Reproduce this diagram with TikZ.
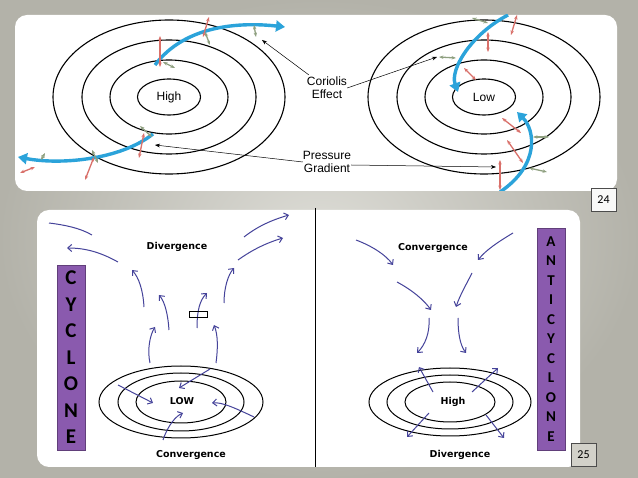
\documentclass[tikz,border=0pt]{standalone}
\usepackage{fontspec}
\setmainfont{Liberation Sans}
\newfontfamily\dvb{DejaVu Sans}
\newfontfamily\carl{Carlito}
\usetikzlibrary{arrows.meta}
\begin{document}
\begin{tikzpicture}[x=1pt,y=-1pt,
  ring/.style={black,line width=1.1pt},
  blue/.style={draw=cBlue,line width=3.4pt,-{Triangle[length=9pt,width=11pt]}},
  red/.style={draw=cRed,line width=1.3pt,{Stealth[length=4.5pt]}-{Stealth[length=4.5pt]}},
  grn/.style={draw=cGrn,line width=1.3pt,{Stealth[length=4.5pt]}-{Stealth[length=4.5pt]}},
  thin/.style={black,line width=0.5pt,-{Stealth[length=5pt]}},
  nav/.style={draw=cNav,line width=1pt,-{Straight Barb[length=4pt,width=7pt]}},
  lbl/.style={font=\fontsize{12}{13}\selectfont,align=center,inner sep=0pt},
  blbl/.style={font=\dvb\bfseries\fontsize{9.5}{10}\selectfont,inner sep=0pt},
  bar/.style={fill=cPur,draw=cPur!70!black},
  num/.style={draw=black!70,line width=0.6pt,minimum width=25pt,minimum height=23pt,font=\carl\fontsize{12}{12}\selectfont,inner sep=0pt}]
\definecolor{cBlue}{HTML}{2BA3DA}
\definecolor{cRed}{HTML}{D9706A}
\definecolor{cGrn}{HTML}{8FA080}
\definecolor{cNav}{HTML}{45439A}
\definecolor{cPur}{HTML}{8A5AAE}
\definecolor{bg}{HTML}{C7C6BC}
\useasboundingbox (0,0) rectangle (638,478);
\shade[inner color=bg!60!white,outer color=bg!90!black] (0,0) rectangle (638,478);
% top panel
\fill[white,rounded corners=12pt] (15,15) rectangle (617,191);
\begin{scope}
\clip (15,15) rectangle (617,191);
\foreach \c in {169,484}{
  \draw[ring] (\c,97) ellipse (31.5 and 18);
  \draw[ring] (\c,97) ellipse (59 and 37);
  \draw[ring] (\c,97) ellipse (87 and 57);
  \draw[ring] (\c,97) ellipse (116 and 77);
}
\node[lbl] (high) at (169,97) {High};
\node[lbl] (low) at (484,97) {Low};
\draw[blue] (155,65) .. controls (185,25) and (240,22) .. (285,27);
\draw[blue] (153,134) .. controls (120,160) and (60,165) .. (18,157);
\draw[blue] (508,15) .. controls (470,35) and (450,70) .. (458,92);
\draw[blue] (500,192) .. controls (540,165) and (535,130) .. (517,112);
\foreach \a/\b/\c/\d in {160/36/160/67, 209/17/203/37, 144/133/139/158, 85/180/94/157, 20/173/35/167, 517/15/511/35, 488/32/488/52, 464/68/476/80, 502/118/521/133, 507/140/523/163, 500/160/500/190}
  \draw[red] (\a,\b) -- (\c,\d);
\foreach \a/\b/\c/\d in {163/62/175/68, 205/32/210/45, 254/25/256/37, 140/126/152/137, 92/150/98/163, 45/153/41/160, 472/18/488/23, 439/57/456/58, 533/137/549/137, 529/168/547/172}
  \draw[grn] (\a,\b) -- (\c,\d);
\end{scope}
\node[lbl] (cor) at (327,88) {Coriolis\\Effect};
\node[lbl] (pg) at (327,162) {Pressure\\Gradient};
\coordinate (c1) at (262,40); \coordinate (c2) at (437,57);
\coordinate (p1) at (155,145); \coordinate (p2) at (496,167);
\draw[thin] (cor.north west) ++(2,-2) -- (c1);
\draw[thin] (cor.east) -- (c2);
\draw[thin] (pg.west) -- (p1);
\draw[thin] (pg.east) ++(0,3) -- (p2);
\node[num,fill=white!90!bg] (n24) at (603.5,200) {24};
% bottom panel
\fill[white,rounded corners=12pt] (37,210) rectangle (580,467);
\draw[black,line width=0.8pt] (315,208) -- (315,467);
% left: cyclone
\draw[ring,line width=1pt] (181,402) ellipse (45 and 21);
\draw[ring,line width=1pt] (181,402) ellipse (63 and 29);
\draw[ring,line width=1pt] (181,402) ellipse (82 and 36);
\node[blbl] (LOW) at (182,401) {LOW};
\node[blbl] (cc) at (191,455) {Convergence};
\node[blbl] (dv) at (177,247) {Divergence};
\draw[nav] (163,440) .. controls (168,425) and (176,416) .. (183,413);
\draw[nav] (118,385) -- (153,403);
\draw[nav] (254,417) .. controls (235,408) and (222,402) .. (212,403);
\draw[nav] (210,369) -- (179,388);
\draw[nav] (150,363) .. controls (147,350) and (150,335) .. (155,327);
\draw[nav] (169,330) .. controls (168,315) and (165,302) .. (159,295);
\draw[nav] (144,307) .. controls (143,290) and (139,278) .. (132,270);
\draw[nav] (197,328) .. controls (197,310) and (200,300) .. (207,293);
\draw[nav] (216,363) .. controls (218,348) and (218,335) .. (214,325);
\draw[nav] (224,303) .. controls (224,288) and (228,275) .. (234,268);
\draw[nav] (238,260) .. controls (252,250) and (266,243) .. (283,238);
\draw[nav] (244,237) .. controls (258,226) and (272,220) .. (289,215);
\draw[nav] (118,262) .. controls (100,252) and (85,248) .. (67,248);
\draw[cNav,line width=1pt] (49,223) .. controls (65,225) and (80,228) .. (92,235);
\draw[black,line width=0.5pt] (189,311) rectangle (207,317);
\node[bar,minimum width=28pt,minimum height=185pt,inner sep=0pt] (cyb) at (71,357.5) {};
\node[align=center,inner sep=0pt,font=\carl\bfseries\fontsize{21}{26.5}\selectfont] at (cyb) {C\\Y\\C\\L\\O\\N\\E};
% right: anticyclone
\draw[ring,line width=1pt] (450,402) ellipse (45 and 20);
\draw[ring,line width=1pt] (450,402) ellipse (63 and 27);
\draw[ring,line width=1pt] (450,402) ellipse (81 and 34);
\node[blbl] (HIGH) at (453,402) {High};
\node[blbl] (cc2) at (433,248) {Convergence};
\node[blbl] (dv2) at (460,455) {Divergence};
\draw[nav] (356,240) .. controls (372,246) and (386,255) .. (393,265);
\draw[nav] (513,233) .. controls (498,242) and (486,250) .. (478,260);
\draw[nav] (397,282) .. controls (412,290) and (424,300) .. (431,310);
\draw[nav] (472,273) .. controls (466,285) and (460,295) .. (456,307);
\draw[nav] (429,318) .. controls (430,333) and (425,345) .. (417,353);
\draw[nav] (458,318) .. controls (458,333) and (460,345) .. (466,353);
\draw[nav] (433,392) -- (419,367);
\draw[nav] (472,392) -- (498,368);
\draw[nav] (429,413) -- (407,437);
\draw[nav] (486,415) -- (504,438);
\node[bar,minimum width=28pt,minimum height=222pt,inner sep=0pt] (acb) at (551,339) {};
\node[align=center,inner sep=0pt,font=\carl\bfseries\fontsize{15}{19.5}\selectfont] at (acb) {A\\N\\T\\I\\C\\Y\\C\\L\\O\\N\\E};
\node[num,fill=bg!80!white] (n25) at (583.5,454.5) {25};
\end{tikzpicture}
\end{document}
